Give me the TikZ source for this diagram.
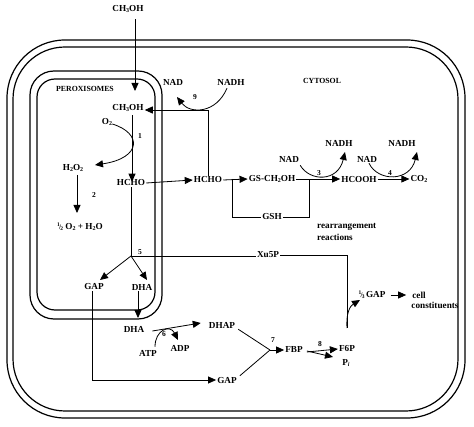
\documentclass[tikz,border=0pt]{standalone}
\usepackage{fontspec}
\setmainfont{Liberation Serif}
\usetikzlibrary{arrows.meta}
\newcommand{\dn}[1]{\raisebox{-0.35ex}{\fontsize{6}{6}\selectfont #1}}
\newcommand{\frc}[2]{\raisebox{0.6ex}{\fontsize{5.5}{6}\selectfont #1}\kern-0.08em{\fontsize{7}{7}\selectfont/}\kern-0.08em\raisebox{-0.3ex}{\fontsize{5.5}{6}\selectfont #2}}
\tikzset{
  lbl/.style={font=\fontsize{9.2}{10}\selectfont\bfseries, inner sep=1pt},
  small/.style={font=\fontsize{7.8}{8}\selectfont\bfseries, inner sep=1pt},
  num/.style={font=\fontsize{7.5}{8}\selectfont\bfseries, inner sep=0.5pt},
  wall/.style={line width=1.2pt},
  con/.style={line width=0.8pt},
  arr/.style={con, -{Triangle[length=8pt,width=7pt]}}
}
\begin{document}
\begin{tikzpicture}[x=1pt,y=-1pt]
\useasboundingbox (0,0) rectangle (474,427);
% cell walls
\draw[wall, rounded corners=58] (7,40) rectangle (465,418);
\draw[wall, rounded corners=52] (13,47) rectangle (458,411);
% peroxisome membranes
\draw[wall, rounded corners=24] (30,71) rectangle (162,319);
\draw[wall, rounded corners=18] (37,79) rectangle (155,310);

% texts
\node[lbl] (ch3top) at (128,9) {CH\dn{3}OH};
\node[small] (perox) at (85,89) {PEROXISOMES};
\node[lbl] (ch3in) at (128,108) {CH\dn{3}OH};
\node[lbl] (o2) at (107,122) {O\dn{2}};
\node[lbl] (h2o2) at (73,168) {H\dn{2}O\dn{2}};
\node[lbl] (hcho1) at (131,183) {HCHO};
\node[lbl] (half) at (80,227) {\frc{1}{2} O\dn{2} + H\dn{2}O};
\node[lbl] (nad9) at (173,82) {NAD};
\node[lbl] (nadh9) at (231,82) {NADH};
\node[small] (cytosol) at (322,81) {CYTOSOL};
\node[lbl] (hcho2) at (208,180) {HCHO};
\node[lbl] (gs) at (272,179) {GS-CH\dn{2}OH};
\node[lbl] (gsh) at (272,217) {GSH};
\node[lbl] (nad3) at (289,159) {NAD};
\node[lbl] (nadh3) at (339,143) {NADH};
\node[lbl] (hcooh) at (359,180) {HCOOH};
\node[lbl] (nad4) at (367,159) {NAD};
\node[lbl] (nadh4) at (402,143) {NADH};
\node[lbl] (co2) at (419,179) {CO\dn{2}};
\node[lbl, anchor=north west, align=left, font=\fontsize{9.2}{12.5}\selectfont\bfseries] (rearr) at (316,222) {rearrangement\\reactions};
\node[lbl] (xu5p) at (268,255) {Xu5P};
\node[lbl] (gap1) at (94,287) {GAP};
\node[lbl] (dha1) at (142,287) {DHA};
\node[lbl] (dha2) at (134,329) {DHA};
\node[lbl] (dhap) at (222,325) {DHAP};
\node[lbl] (atp) at (148,353) {ATP};
\node[lbl] (adp) at (180,348) {ADP};
\node[lbl] (gap2) at (227,380) {GAP};
\node[lbl] (fbp) at (294,350) {FBP};
\node[lbl] (f6p) at (347,349) {F6P};
\node[lbl] (pi) at (346,363) {P\dn{\itshape i}};
\node[lbl] (gap3) at (372,295) {\frc{1}{3}\,GAP};
\node[lbl] (cell) at (419,295) {cell};
\node[lbl] (constit) at (435,305) {constituents};
% reaction numbers
\node[num] (n1) at (140,136) {1};
\node[num] (n2) at (94,195) {2};
\node[num] (n3) at (319,173) {3};
\node[num] (n4) at (390,173) {4};
\node[num] (n5) at (140,252) {5};
\node[num] (n6) at (164,334) {6};
\node[num] (n7) at (273,340) {7};
\node[num] (n8) at (320,344) {8};
\node[num] (n9) at (195,97) {9};

% junction coordinates
\coordinate (j9) at (208,110);
\coordinate (f5) at (131,256);
\coordinate (jx) at (347,255);
\coordinate (jf) at (347,328);
\coordinate (jg) at (232,179);
\coordinate (jh) at (309,217);
\coordinate (jh2) at (309,179);
\coordinate (f7) at (270,350);
\coordinate (jgap) at (92,380);

% connectors
\draw[arr] ([xshift=7pt,yshift=-5pt]ch3top.south) -- (135,91);
\draw[arr] (hcho2.north) -- (j9) -- (ch3in.east |- j9);
\draw[arr] (nadh9.south) ++(-4,2) .. controls (216,114) and (190,114) .. (177,97);
\draw[arr] (o2.east) ++(-1,2) .. controls (142,133) and (142,158) .. (95,165);
\draw[arr] ([xshift=4pt,yshift=-2pt]ch3in.south) -- ([xshift=1pt,yshift=-3pt]hcho1.north);
\draw[arr] ([xshift=4pt,yshift=-2pt]h2o2.south) -- (77,213);
\draw[arr] (hcho1.east) -- (hcho2.west);
\draw[arr] (hcho2.east) -- (gs.west);
\draw[con] (jg) |- (gsh.west);
\draw[con] (gsh.east) -- (jh) -- (jh2);
\draw[arr] (gs.east) -- (hcooh.west |- gs.east);
\draw[arr] (nad3.south east) ++(0,2) .. controls (310,182) and (338,182) .. (345,152);
\draw[arr] (nad4.south) ++(2,0) .. controls (378,182) and (410,182) .. (417,152);
\draw[arr] (hcooh.east |- co2.west) -- (co2.west);
\draw[con] (hcho1.south) -- (f5);
\draw[con] (f5) -- (xu5p.west |- f5);
\draw[arr] (f5) -- (100,280);
\draw[arr] (f5) -- (147,280);
\draw[con] (xu5p.east) -- (jx) -- (jf);
\draw[arr] (jf) .. controls (346,313) and (350,306) .. (360,300);
\draw[arr] (gap3.east) ++(4,0) -- ([xshift=-5pt]cell.west);
\draw[arr] ([xshift=-4pt]dha1.south) -- (138,318);
\draw[arr] (jgap |- gap1.south) -- (jgap) -- (gap2.west);
\draw[arr] ([xshift=7pt,yshift=-2pt]dha2.east) -- ([xshift=-7pt,yshift=2pt]dhap.west);
\draw[arr] (atp.north) ++(7,-2) .. controls (155,330) and (170,324) .. (178,340);
\draw[con] (dhap.south east) ++(2,0) -- (f7);
\draw[con] (gap2.north east) ++(2,0) -- (f7);
\draw[arr] (f7) -- (fbp.west);
\draw[arr] ([xshift=3pt,yshift=-2pt]fbp.east) -- (f6p.west);
\draw[arr] ([xshift=3pt,yshift=-1pt]fbp.east) -- (333,357);
\end{tikzpicture}
\end{document}
